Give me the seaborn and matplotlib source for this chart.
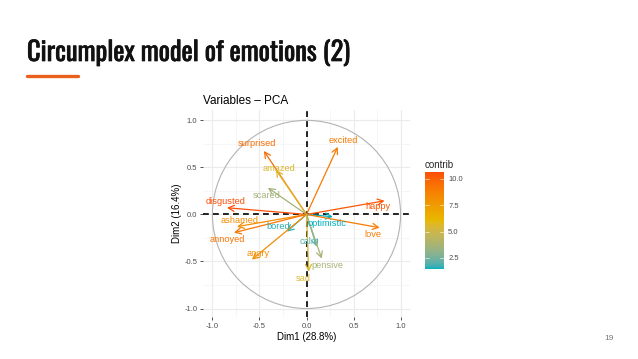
import numpy as np
import matplotlib
matplotlib.use("Agg")
import matplotlib.pyplot as plt
import matplotlib.patheffects as pe
import seaborn as sns
from matplotlib.colors import ListedColormap, Normalize, to_rgb
from matplotlib.cm import ScalarMappable
from matplotlib.patches import Circle
from matplotlib.lines import Line2D
from matplotlib.ticker import FixedLocator, FormatStrFormatter

# PCA variable coordinates
variables = ["surprised", "excited", "amazed", "scared", "disgusted", "happy",
             "ashamed", "annoyed", "bored", "optimistic", "love", "calm",
             "pensive", "angry", "sad"]
dim1 = [-0.453, 0.332, -0.326, -0.41, -0.845, 0.830,
        -0.739, -0.771, -0.209, 0.279, 0.777, 0.109,
        0.162, -0.58, 0.024]
dim2 = [0.675, 0.718, 0.474, 0.283, 0.071, 0.145,
        -0.13, -0.194, -0.183, -0.024, -0.141, -0.343,
        -0.470, -0.48, -0.608]
contrib = [9.6, 9.0, 5.6, 3.6, 10.65, 10.3,
           8.2, 9.2, 1.6, 1.45, 9.0, 2.0,
           3.7, 8.2, 5.5]

x_ticks = [-1.0, -0.5, 0.0, 0.5, 1.0]
y_ticks = [-1.0, -0.5, 0.0, 0.5, 1.0]
cbar_ticks = [2.5, 5.0, 7.5, 10.0]
gradient_cols = ["#00AFBB", "#E7B800", "#FC4E07"]

# label nudges (pixels), as placed by the repel step in the original
label_nudge = {
    "surprised": (-7, 7), "excited": (6, 6), "amazed": (3, 1), "scared": (-1, -8),
    "disgusted": (-1, 6), "happy": (-7, -6), "ashamed": (3, 6), "annoyed": (-7, -7),
    "bored": (-9, 5), "optimistic": (-6, -7), "love": (-7, -7), "calm": (-7, 5),
    "pensive": (6, -7), "angry": (6, 6), "sad": (-6, -7),
}


# ggplot interpolates gradients in CIELAB, so do the same here
M = np.array([[0.4124, 0.3576, 0.1805], [0.2126, 0.7152, 0.0722], [0.0193, 0.1192, 0.9505]])
WHITE = np.array([0.95047, 1.0, 1.08883])


def rgb_to_lab(rgb):
    c = np.asarray(rgb)
    lin = np.where(c <= 0.04045, c / 12.92, ((c + 0.055) / 1.055) ** 2.4)
    xyz = M @ lin / WHITE
    f = np.where(xyz > 0.008856, np.cbrt(xyz), 7.787 * xyz + 16 / 116)
    return np.array([116 * f[1] - 16, 500 * (f[0] - f[1]), 200 * (f[1] - f[2])])


def lab_to_rgb(lab):
    fy = (lab[0] + 16) / 116
    fx = fy + lab[1] / 500
    fz = fy - lab[2] / 200
    f = np.array([fx, fy, fz])
    xyz = np.where(f ** 3 > 0.008856, f ** 3, (f - 16 / 116) / 7.787) * WHITE
    lin = np.linalg.solve(M, xyz)
    c = np.where(lin <= 0.0031308, 12.92 * lin, 1.055 * np.clip(lin, 0, None) ** (1 / 2.4) - 0.055)
    return np.clip(c, 0, 1)


labs = [rgb_to_lab(to_rgb(c)) for c in gradient_cols]
ramp = []
for t in np.linspace(0, 1, 256):
    seg = 0 if t < 0.5 else 1
    u = (t - 0.5 * seg) / 0.5
    ramp.append(lab_to_rgb(labs[seg] * (1 - u) + labs[seg + 1] * u))
cmap = ListedColormap(ramp)

sns.set_theme(style="whitegrid")
plt.rcParams["font.family"] = ["Liberation Sans", "DejaVu Sans"]

W, H = 638, 359
fig = plt.figure(figsize=(W / 100, H / 100), dpi=100)
fig.patch.set_facecolor("white")

# slide title + underline
fig.text(27 / W, 1 - 61 / H, "Circumplex model of emotions (2)",
         family=["Oswald", "Barlow Condensed", "Liberation Sans"],
         fontsize=19, fontweight="bold", color="#111111", va="baseline",
         path_effects=[pe.withStroke(linewidth=0.5, foreground="#111111")])
fig.add_artist(Line2D([27 / W, 78 / W], [1 - 76 / H] * 2, color="#E8601C", lw=2.4))
fig.text(604 / W, 1 - 340 / H, "19", fontsize=6, color="#777777")

ax = fig.add_axes([203 / W, 1 - 317 / H, 207 / W, 207 / H])
ax.set_facecolor("white")
ax.set_xlim(-1.1, 1.1)
ax.set_ylim(-1.09, 1.11)

ax.xaxis.set_major_locator(FixedLocator(x_ticks))
ax.yaxis.set_major_locator(FixedLocator(y_ticks))
ax.xaxis.set_minor_locator(FixedLocator([-0.75, -0.25, 0.25, 0.75]))
ax.yaxis.set_minor_locator(FixedLocator([-0.75, -0.25, 0.25, 0.75]))
ax.xaxis.set_major_formatter(FormatStrFormatter("%.1f"))
ax.yaxis.set_major_formatter(FormatStrFormatter("%.1f"))
ax.grid(which="major", color="#EBEBEB", lw=0.8)
ax.grid(which="minor", color="#F3F3F3", lw=0.5)
for s in ax.spines.values():
    s.set_visible(False)
ax.tick_params(which="major", length=2.5, width=0.6, color="#333333",
               labelsize=5.5, labelcolor="#4D4D4D", pad=1.5, left=True, bottom=True)
ax.tick_params(which="minor", length=0)

ax.add_patch(Circle((0, 0), 1.0, fill=False, color="#B3B3B3", lw=0.8, zorder=2))
ax.axhline(0, color="black", lw=1.2, ls=(0, (3.5, 2.5)), zorder=3)
ax.axvline(0, color="black", lw=1.2, ls=(0, (3.5, 2.5)), zorder=3)

norm = Normalize(vmin=min(contrib), vmax=max(contrib))

for name, x, y, c in zip(variables, dim1, dim2, contrib):
    col = cmap(norm(c))
    ax.annotate("", xy=(x, y), xytext=(0, 0),
                arrowprops=dict(arrowstyle="->,head_length=0.35,head_width=0.18",
                                color=col, lw=0.9, shrinkA=0, shrinkB=0), zorder=4)
    dx, dy = label_nudge[name]
    ax.annotate(name, xy=(x, y), xytext=(dx, dy), textcoords="offset pixels",
                ha="center", va="center", fontsize=6.7, color=col, zorder=5)

ax.set_title("Variables – PCA", loc="left", fontsize=8.5, color="black", pad=4)
ax.set_xlabel("Dim1 (28.8%)", fontsize=7, color="black", labelpad=2)
ax.set_ylabel("Dim2 (16.4%)", fontsize=7, color="black", labelpad=2)

# colour bar
cax = fig.add_axes([425 / W, 1 - 269 / H, 19 / W, 97 / H])
cb = fig.colorbar(ScalarMappable(norm=norm, cmap=cmap), cax=cax)
cb.outline.set_visible(False)
cb.set_ticks(cbar_ticks)
cb.set_ticklabels([f"{t:.1f}" for t in cbar_ticks])
cax.tick_params(length=0, labelsize=5.5, labelcolor="#4D4D4D", pad=3)
for t in cbar_ticks:
    cax.plot([0, 0.2], [t, t], color="white", lw=0.5, alpha=0.8, transform=cax.get_yaxis_transform())
    cax.plot([0.8, 1.0], [t, t], color="white", lw=0.5, alpha=0.8, transform=cax.get_yaxis_transform())
cax.set_title("contrib", loc="left", fontsize=7, pad=3)

fig.savefig("out.png", dpi=100)
